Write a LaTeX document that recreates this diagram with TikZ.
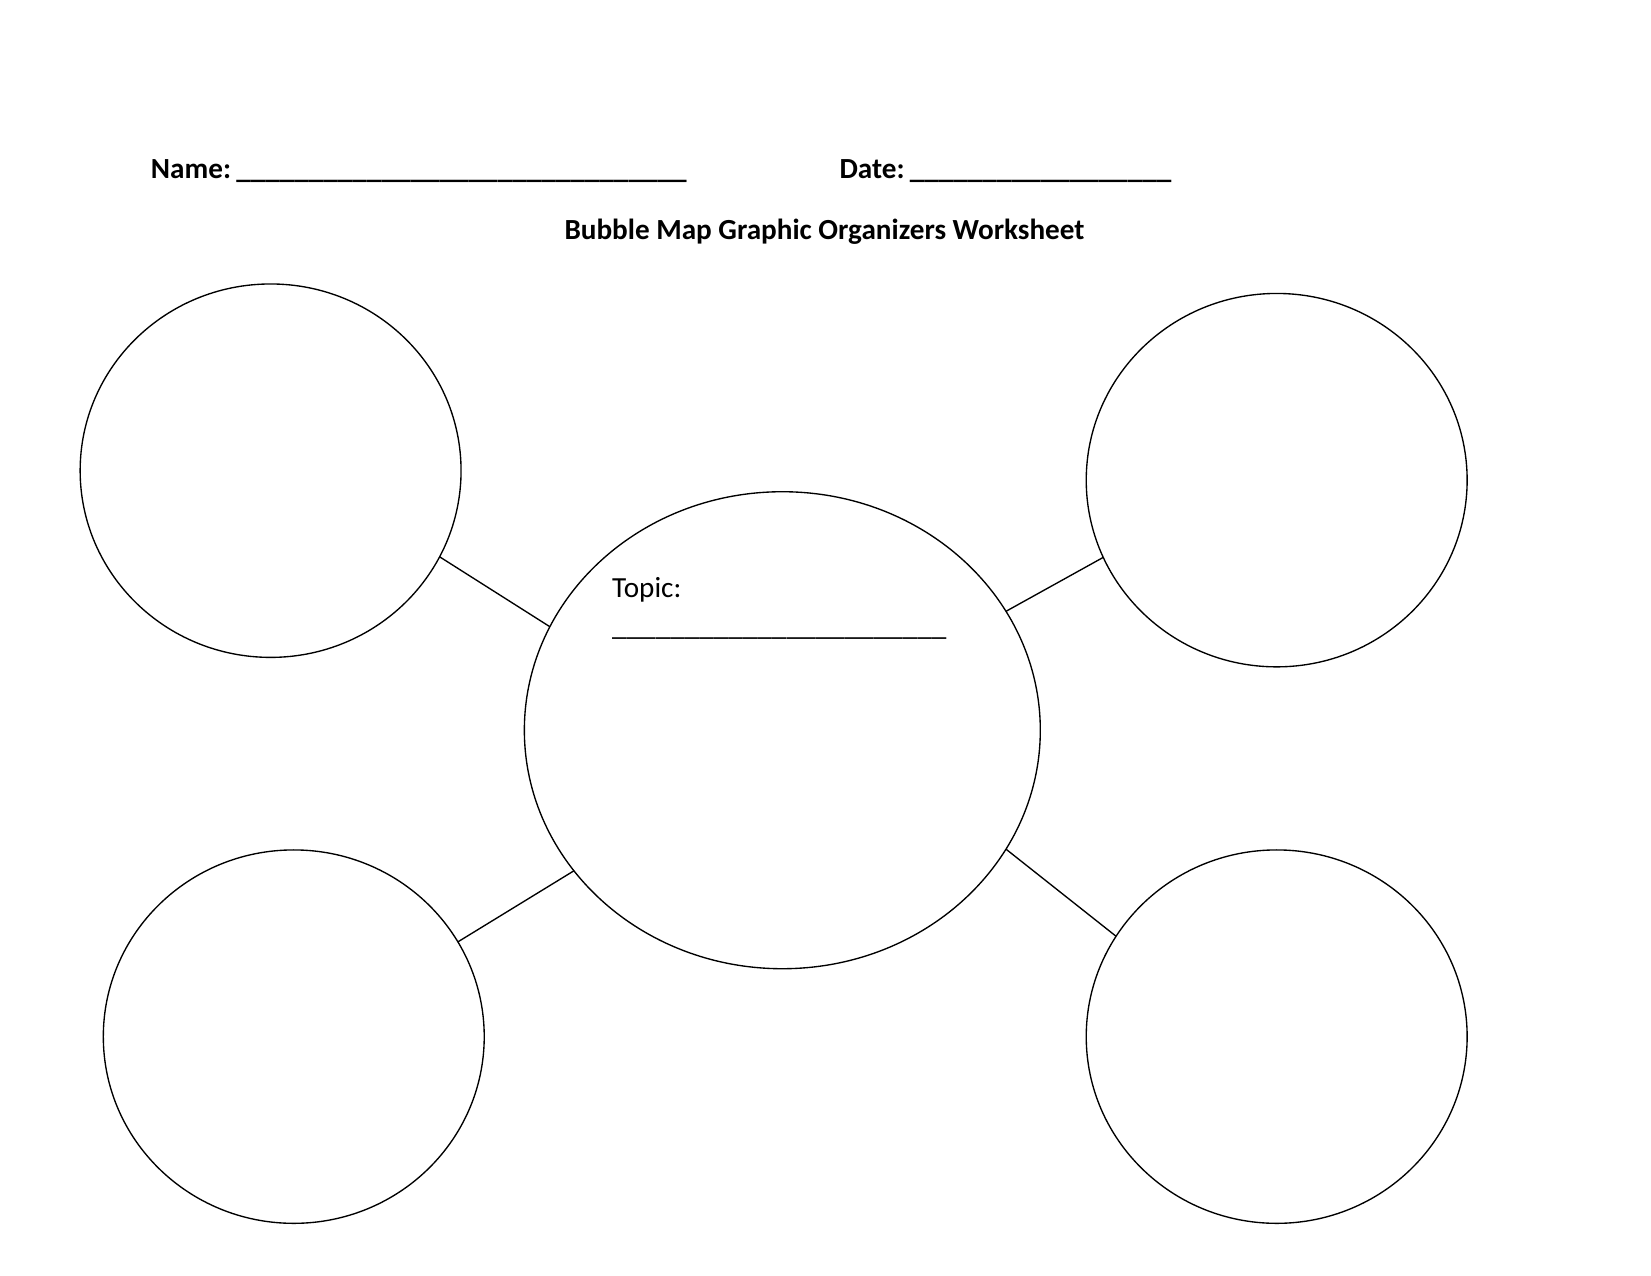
\documentclass[tikz,border=0pt]{standalone}
\usepackage{fontspec}
\setmainfont{Carlito}
\usetikzlibrary{shapes.geometric}
\newcommand{\blanks}[1]{\foreach \i in {1,...,#1}{\_}}
\tikzset{
  bubble/.style={draw, ellipse, inner sep=0pt, outer sep=0pt, line width=0.65pt,
    minimum width=182.8pt, minimum height=179.2pt},
  topicbubble/.style={bubble, minimum width=247.6pt, minimum height=228.9pt},
  label/.style={anchor=base west, inner sep=0pt, font=\fontsize{14}{17}\selectfont}
}
\begin{document}
\begin{tikzpicture}[x=0.5053pt, y=-0.5053pt]
  \useasboundingbox (0,0) rectangle (1568,1211);
  \draw
    (143,169.5) node[label] (name){\bfseries Name:\hspace{2.5pt}\blanks{31}}
    (797,169.5) node[label] (date){\bfseries Date:\hspace{2.5pt}\blanks{18}}
    (783,227.5) node[label, anchor=base] (title){\bfseries Bubble Map Graphic Organizers Worksheet}
    (743,693.5) node[topicbubble] (topic){}
    (581,567) node[label] (topiclabel){Topic:}
    (581,604) node[label] (topicline){\blanks{23}}
    (257,447) node[bubble] (tl){}
    (1212.5,456) node[bubble] (tr){}
    (279,984.5) node[bubble] (bl){}
    (1212.5,984.5) node[bubble] (br){};
  \begin{scope}[-, line width=0.65pt]
    \draw (tl.-27) to (topic.156.5);
    \draw (topic.28) to (tr.204.2);
    \draw (topic.214.2) to (bl.30.5);
    \draw (topic.-28) to (br.148);
  \end{scope}
\end{tikzpicture}
\end{document}
